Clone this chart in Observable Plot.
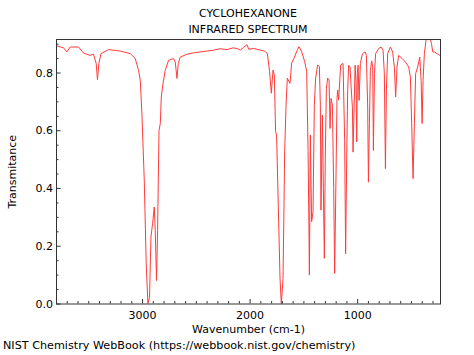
<!DOCTYPE html>
<html><head><meta charset="utf-8">
<script src="https://cdn.jsdelivr.net/npm/d3@7"></script>
<script src="https://cdn.jsdelivr.net/npm/@observablehq/plot@0.6"></script>
<style>
body{margin:0;background:#fff;width:474px;height:355px;position:relative;overflow:hidden;font-family:"DejaVu Sans",sans-serif;color:#000}
#title{position:absolute;left:56px;width:384px;top:5.5px;text-align:center;font-size:11px;line-height:16px}
#chart{position:absolute;left:0;top:37px}
#caption{position:absolute;left:3px;top:338.6px;font-size:11.2px;line-height:13px;white-space:nowrap}
</style></head><body>
<div id="title">CYCLOHEXANONE<br>INFRARED SPECTRUM</div>
<div id="chart"></div>
<div id="caption">NIST Chemistry WebBook (https://webbook.nist.gov/chemistry)</div>
<script>
const wavenumber = [3800,3765,3737,3703,3673,3595,3549,3487,3456,3431,3419,3406,3387,3316,3207,3114,3068,3037,3021,3006,2984,2966,2950,2935,2922,2907,2891,2882,2870,2860,2847,2835,2826,2810,2789,2758,2712,2696,2680,2668,2649,2587,2520,2463,2400,2340,2280,2215,2160,2122,2091,2063,2029,2012,1967,1905,1868,1840,1819,1803,1787,1775,1763,1754,1738,1722,1710,1694,1685,1679,1675,1666,1654,1638,1629,1614,1592,1561,1545,1521,1493,1474,1461,1452,1449,1440,1428,1415,1403,1391,1372,1356,1347,1341,1335,1328,1319,1310,1301,1291,1279,1266,1257,1248,1235,1223,1214,1201,1192,1186,1177,1158,1136,1121,1112,1102,1093,1084,1071,1061,1049,1043,1033,1024,1015,1009,1003,996,987,975,956,931,919,907,900,891,882,870,860,854,844,833,805,782,764,752,742,733,721,696,675,659,647,634,619,587,556,526,510,498,485,473,461,442,423,410,401,392,380,361,330,314,302,287,262,237,230];
const transmittance = [0.895,0.890,0.888,0.873,0.890,0.890,0.869,0.861,0.865,0.833,0.777,0.833,0.867,0.881,0.876,0.867,0.850,0.809,0.775,0.659,0.428,0.139,0.001,0.024,0.232,0.278,0.336,0.255,0.081,0.255,0.601,0.625,0.717,0.763,0.809,0.844,0.850,0.838,0.781,0.833,0.855,0.865,0.870,0.873,0.876,0.879,0.884,0.881,0.887,0.885,0.879,0.888,0.898,0.882,0.885,0.879,0.876,0.868,0.805,0.730,0.810,0.793,0.597,0.585,0.342,0.088,0.0,0.088,0.342,0.527,0.574,0.689,0.782,0.770,0.764,0.834,0.851,0.880,0.891,0.874,0.840,0.805,0.528,0.227,0.100,0.585,0.285,0.320,0.689,0.782,0.828,0.822,0.689,0.325,0.481,0.654,0.400,0.158,0.516,0.747,0.782,0.776,0.608,0.712,0.689,0.400,0.106,0.458,0.712,0.741,0.706,0.828,0.833,0.567,0.174,0.509,0.740,0.827,0.821,0.751,0.682,0.526,0.682,0.827,0.763,0.561,0.798,0.827,0.705,0.833,0.867,0.873,0.861,0.682,0.422,0.625,0.809,0.842,0.821,0.532,0.798,0.867,0.885,0.890,0.879,0.798,0.469,0.740,0.867,0.890,0.873,0.821,0.717,0.821,0.861,0.850,0.838,0.821,0.786,0.625,0.434,0.625,0.798,0.821,0.855,0.775,0.625,0.775,0.867,0.925,0.925,0.902,0.873,0.873,0.867,0.861,0.860];
const xTickLabels = [3000, 2000, 1000];
const xMinorTicks = [300,400,500,600,700,800,900,1100,1200,1300,1400,1500,1600,1700,1800,1900,2100,2200,2300,2400,2500,2600,2700,2800,2900,3100,3200,3300,3400,3500,3600,3700];
const yTickLabels = [0, 0.2, 0.4, 0.6, 0.8];
const yMinorTicks = [0.05,0.1,0.15,0.25,0.3,0.35,0.45,0.5,0.55,0.65,0.7,0.75,0.85,0.9];
const titleX = "Wavenumber (cm-1)";
const titleY = "Transmitance";

const spectrum = wavenumber.map((w, i) => ({w, t: transmittance[i]}));
const W = 474, H = 298, mL = 56, mR = 34, mT = 2, mB = 31.5;
const innerW = W - mL - mR, innerH = H - mT - mB;
const axisColor = "#333";

const chart = Plot.plot({
  width: W, height: H,
  marginLeft: mL, marginRight: mR, marginTop: mT, marginBottom: mB,
  style: {fontFamily: "DejaVu Sans", fontSize: "11px", color: "#000", background: "#fff"},
  x: {domain: [3800, 230]},
  y: {domain: [0, 0.916]},
  marks: [
    Plot.line(spectrum, {x: "w", y: "t", stroke: "#ff3b3b", strokeWidth: 1, clip: true}),
    Plot.tickX(xTickLabels, {x: d => d, insetTop: innerH - 4.5, stroke: axisColor}),
    Plot.tickX(xMinorTicks, {x: d => d, insetTop: innerH - 2.5, stroke: axisColor}),
    Plot.tickY(yTickLabels, {y: d => d, insetRight: innerW - 4.5, stroke: axisColor}),
    Plot.tickY(yMinorTicks, {y: d => d, insetRight: innerW - 2.5, stroke: axisColor}),
    Plot.axisX(xTickLabels, {tickSize: 0, tickPadding: 7, tickFormat: d => String(d), label: null, fill: "#000", fontSize: 11}),
    Plot.axisY(yTickLabels, {tickSize: 0, tickPadding: 3.5, tickFormat: d3.format(".1f"), label: null, fill: "#000", fontSize: 11}),
    Plot.text([titleX], {frameAnchor: "bottom", dy: 25, lineAnchor: "middle", textAnchor: "middle", text: d => d, fill: "#000", fontSize: 11}),
    Plot.text([titleY], {frameAnchor: "left", dx: -44, rotate: -90, lineAnchor: "middle", textAnchor: "middle", text: d => d, fill: "#000", fontSize: 11}),
    Plot.frame({stroke: axisColor})
  ]
});
document.getElementById("chart").appendChild(chart);
</script>
</body></html>
